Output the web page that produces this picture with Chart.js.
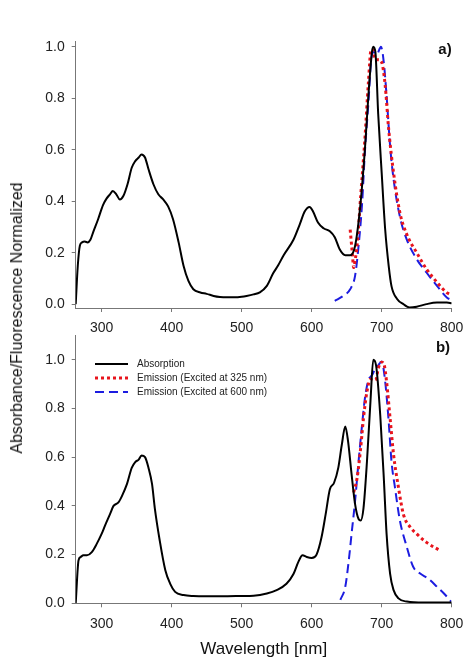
<!DOCTYPE html>
<html>
<head>
<meta charset="utf-8">
<script src="https://cdn.jsdelivr.net/npm/chart.js@4.4.1/dist/chart.umd.min.js"></script>
<style>
  body { margin: 0; background: #fff; }
  #wrap { position: relative; width: 474px; height: 663px; font-family: "Liberation Sans", Arial, sans-serif; }
  canvas { position: absolute; left: 0; }
  #top { top: 0; }
  #bottom { top: 320px; }
  #ytitle {
    position: absolute; left: 17px; top: 318px;
    transform: translate(-50%, -50%) rotate(-90deg);
    white-space: nowrap; font-size: 16px; color: #111;
  }
</style>
</head>
<body>
<div id="wrap">
  <canvas id="top" width="474" height="335"></canvas>
  <canvas id="bottom" width="474" height="343"></canvas>
  <div id="ytitle">Absorbance/Fluorescence Normalized</div>
</div>
<script>
// Wellenlaengen-Ticks und Y-Ticks
const xTicks = [300, 400, 500, 600, 700, 800];
const yTicks = [0, 0.2, 0.4, 0.6, 0.8, 1.0];

const legendLabels = ["Absorption", "Emission (Excited at 325 nm)", "Emission (Excited at 600 nm)"];

// Panel a) - Absorption
const aAbsNm = [263, 266, 269, 272, 276, 280, 284, 288, 295, 302, 307, 312, 316, 321, 326, 331, 337, 343, 348, 353, 357, 362, 367, 374, 381, 388, 395, 402, 410, 417, 424, 431, 441, 450, 460, 469, 480, 490, 500, 507, 517, 526, 536, 545, 552, 560, 574, 583, 590, 597, 602, 609, 617, 626, 633, 640, 648, 655, 662, 669, 676, 681, 686, 688, 691, 695, 700, 705, 710, 714, 722, 731, 740, 750, 764, 779, 793, 800];
const aAbsVal = [0.0, 0.15, 0.228, 0.24, 0.243, 0.24, 0.25, 0.28, 0.33, 0.385, 0.41, 0.427, 0.44, 0.427, 0.407, 0.42, 0.466, 0.53, 0.556, 0.57, 0.582, 0.57, 0.524, 0.466, 0.427, 0.407, 0.38, 0.33, 0.24, 0.149, 0.09, 0.058, 0.045, 0.04, 0.032, 0.028, 0.027, 0.027, 0.029, 0.032, 0.038, 0.046, 0.071, 0.12, 0.15, 0.19, 0.25, 0.31, 0.36, 0.378, 0.36, 0.317, 0.295, 0.283, 0.26, 0.213, 0.19, 0.19, 0.226, 0.37, 0.6, 0.81, 0.977, 1.0, 0.98, 0.74, 0.51, 0.29, 0.149, 0.07, 0.02, 0.0, -0.013, -0.01, 0.0, 0.006, 0.006, 0.003];

// Panel a) - Emission 325 nm
const aEm325Nm = [655, 658, 660, 662, 665, 670, 676, 681, 685, 687, 691, 695, 700, 705, 710, 717, 726, 736, 750, 764, 779, 793, 800];
const aEm325Val = [0.29, 0.2, 0.142, 0.17, 0.23, 0.42, 0.64, 0.86, 0.99, 0.99, 0.95, 0.95, 0.94, 0.85, 0.68, 0.51, 0.356, 0.27, 0.2, 0.136, 0.085, 0.045, 0.035];

// Panel a) - Emission 600 nm
const aEm600Nm = [633, 645, 655, 662, 667, 672, 676, 681, 685, 688, 693, 699, 703, 707, 712, 717, 726, 736, 750, 764, 779, 793, 800];
const aEm600Val = [0.013, 0.032, 0.058, 0.11, 0.226, 0.39, 0.59, 0.78, 0.95, 0.98, 0.97, 1.0, 0.94, 0.81, 0.615, 0.485, 0.34, 0.25, 0.175, 0.123, 0.071, 0.026, 0.016];

// Panel b) - Absorption
const bAbsNm = [263, 267, 270, 274, 279, 286, 293, 300, 305, 312, 317, 324, 329, 336, 343, 348, 353, 357, 362, 367, 372, 376, 383, 391, 398, 405, 417, 431, 450, 480, 500, 517, 536, 550, 564, 574, 581, 587, 593, 600, 607, 614, 620, 626, 632, 638, 643, 648, 652, 657, 662, 667, 670, 674, 679, 684, 688, 692, 698, 703, 707, 712, 717, 724, 736, 760, 800];
const bAbsVal = [0.0, 0.176, 0.19, 0.197, 0.197, 0.21, 0.244, 0.285, 0.32, 0.366, 0.40, 0.414, 0.44, 0.488, 0.556, 0.58, 0.59, 0.607, 0.6, 0.556, 0.49, 0.39, 0.258, 0.136, 0.08, 0.047, 0.034, 0.03, 0.029, 0.029, 0.03, 0.031, 0.04, 0.054, 0.08, 0.12, 0.17, 0.197, 0.19, 0.186, 0.2, 0.27, 0.366, 0.468, 0.495, 0.556, 0.65, 0.726, 0.665, 0.53, 0.407, 0.346, 0.34, 0.39, 0.583, 0.83, 1.0, 0.977, 0.77, 0.516, 0.285, 0.122, 0.054, 0.02, 0.007, 0.003, 0.003];

// Panel b) - Emission 325 nm
const bEm325Nm = [660, 665, 670, 674, 679, 684, 688, 692, 695, 700, 703, 707, 712, 717, 724, 731, 741, 750, 764, 783];
const bEm325Val = [0.455, 0.516, 0.638, 0.76, 0.87, 0.92, 0.916, 0.92, 0.963, 0.99, 0.984, 0.91, 0.76, 0.61, 0.475, 0.366, 0.312, 0.285, 0.25, 0.217];

// Panel b) - Emission 600 nm
const bEm600Nm = [641, 648, 653, 657, 662, 667, 672, 676, 681, 686, 691, 695, 700, 705, 710, 714, 719, 726, 736, 745, 755, 767, 779, 791, 799];
const bEm600Val = [0.014, 0.068, 0.176, 0.285, 0.42, 0.583, 0.733, 0.84, 0.916, 0.936, 0.963, 0.977, 0.993, 0.91, 0.746, 0.583, 0.475, 0.34, 0.23, 0.15, 0.122, 0.1, 0.068, 0.034, 0.007];

const FONT = "'Liberation Sans', Arial, sans-serif";

function punkte(nm, val) {
    return nm.map((x, i) => ({ x: x, y: val[i] }));
}

function serien(absNm, absVal, em325Nm, em325Val, em600Nm, em600Val) {
    return [
        { label: legendLabels[0], data: punkte(absNm, absVal), borderColor: "#000000", borderWidth: 2 },
        { label: legendLabels[1], data: punkte(em325Nm, em325Val), borderColor: "#e8141c", borderWidth: 3, borderDash: [3, 3] },
        { label: legendLabels[2], data: punkte(em600Nm, em600Val), borderColor: "#1c1ce0", borderWidth: 2, borderDash: [9, 5] },
    ];
}

// Beschriftung a) / b)
const panelText = {
    id: "panelText",
    afterDraw(chart, args, opts) {
        if (!opts.text) return;
        const c = chart.ctx;
        c.save();
        c.font = "bold 15px " + FONT;
        c.fillStyle = "#111";
        c.textAlign = "center";
        c.textBaseline = "middle";
        c.fillText(opts.text, opts.x, opts.y);
        c.restore();
    },
};

// eigene Legende im Diagramm b)
const innenLegende = {
    id: "innenLegende",
    afterDraw(chart, args, opts) {
        if (!opts.show) return;
        const c = chart.ctx;
        c.save();
        c.font = "10px " + FONT;
        c.textBaseline = "middle";
        chart.data.datasets.forEach((ds, i) => {
            const y = opts.y + i * 14;
            c.strokeStyle = ds.borderColor;
            c.lineWidth = ds.borderWidth;
            c.setLineDash(ds.borderDash || []);
            c.beginPath();
            c.moveTo(opts.x, y);
            c.lineTo(opts.x + 33, y);
            c.stroke();
            c.fillStyle = "#222";
            c.fillText(ds.label, opts.x + 42, y);
        });
        c.restore();
    },
};

function diagramm(id, datasets, yMin, yMax, layout, xHeight, extra) {
    const ctx = document.getElementById(id).getContext("2d");
    return new Chart(ctx, {
        type: "line",
        data: { datasets: datasets },
        plugins: [panelText, innenLegende],
        options: {
            responsive: false,
            animation: false,
            layout: { padding: layout },
            elements: {
                point: { radius: 0 },
                line: { cubicInterpolationMode: "monotone", fill: false },
            },
            plugins: {
                legend: { display: false },
                tooltip: { enabled: false },
                panelText: extra.label,
                innenLegende: extra.legend,
            },
            scales: {
                x: {
                    type: "linear",
                    min: 263,
                    max: 800,
                    afterBuildTicks: (s) => { s.ticks = xTicks.map((v) => ({ value: v })); },
                    afterFit: (s) => { s.height = xHeight; },
                    grid: { drawOnChartArea: false, tickLength: 4, color: "#777" },
                    border: { color: "#777", width: 1 },
                    ticks: { color: "#222", padding: 8, font: { family: FONT, size: 14 }, maxRotation: 0 },
                    title: {
                        display: extra.xTitle,
                        text: "Wavelength [nm]",
                        color: "#111",
                        font: { family: FONT, size: 17 },
                        padding: { top: 0, bottom: 3 },
                    },
                },
                y: {
                    min: yMin,
                    max: yMax,
                    afterBuildTicks: (s) => { s.ticks = yTicks.map((v) => ({ value: v })); },
                    afterFit: (s) => { s.width = 75.7; },
                    grid: { drawOnChartArea: false, tickLength: 4, color: "#777" },
                    border: { color: "#777", width: 1 },
                    ticks: {
                        color: "#222",
                        padding: 7,
                        font: { family: FONT, size: 14 },
                        callback: (v) => v.toFixed(1),
                    },
                },
            },
        },
    });
}

diagramm("top",
    serien(aAbsNm, aAbsVal, aEm325Nm, aEm325Val, aEm600Nm, aEm600Val),
    -0.015, 1.02,
    { left: 0, right: 22.3, top: 41.7, bottom: 0 }, 27,
    { label: { text: "a)", x: 445, y: 50 }, legend: { show: false }, xTitle: false });

diagramm("bottom",
    serien(bAbsNm, bAbsVal, bEm325Nm, bEm325Val, bEm600Nm, bEm600Val),
    0, 1.1,
    { left: 0, right: 22.3, top: 13, bottom: 0 }, 59.7,
    { label: { text: "b)", x: 443, y: 28 }, legend: { show: true, x: 95, y: 44 }, xTitle: true });
</script>
</body>
</html>
